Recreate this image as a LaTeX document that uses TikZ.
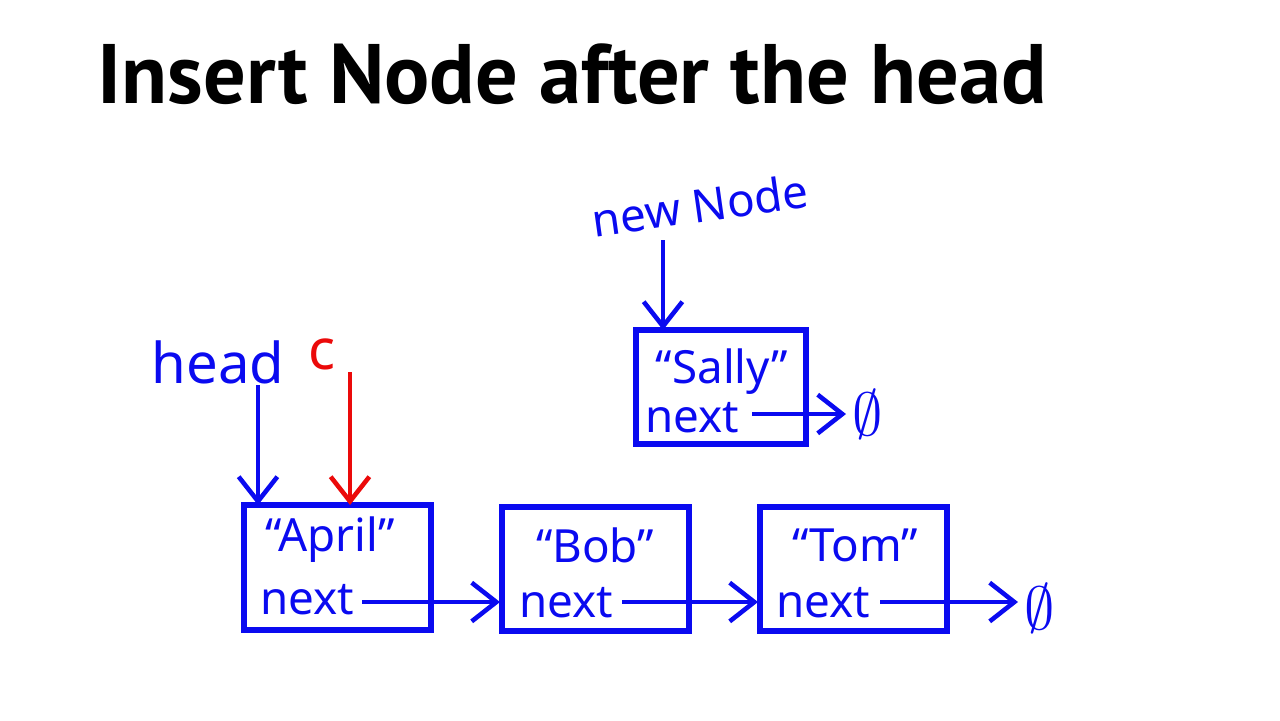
\documentclass[tikz,border=0pt]{standalone}
\usepackage{fontspec}
\setmainfont{PT Sans}
\newfontfamily\hand{Noto Sans}
\usetikzlibrary{arrows.meta}
\definecolor{pen}{RGB}{10,10,240}
\definecolor{redpen}{RGB}{235,10,10}
\begin{document}
\begin{tikzpicture}[x=0.01cm,y=-0.01cm,
  hw/.style={text=pen,font=\hand\fontsize{13}{13}\selectfont,inner sep=0pt},
  es/.style={hw,font=\fontsize{16}{16}\selectfont},
  arr/.style={draw=pen,line width=1.3pt,-{Straight Barb[length=7pt,width=11pt]}}]
\useasboundingbox (0,0) rectangle (1280,720);
\node[anchor=base west,inner sep=0pt,font=\bfseries\fontsize{24}{24}\selectfont] (title) at (97,103) {Insert Node after the head};
% boxes
\draw[pen,line width=1.5pt] (244,505) rectangle (431,630);
\draw[pen,line width=1.5pt] (502,507) rectangle (689,631);
\draw[pen,line width=1.5pt] (760,507) rectangle (947,631);
\draw[pen,line width=1.5pt] (636,330) rectangle (806,444);
\coordinate (bL) at (500,602); \coordinate (tL) at (758,602);
% labels
\node[hw] (a) at (330,540) {“April”};
\node[hw] (b) at (595,545) {“Bob”};
\node[hw] (t) at (855,545) {“Tom”};
\node[hw] (s) at (722,372) {“Sally”};
\node[hw] (an) at (307,600) {next};
\node[hw] (bn) at (566,603) {next};
\node[hw] (tn) at (823,603) {next};
\node[hw] (sn) at (692,418) {next};
\node[es] (t1) at (1040,608) {$\emptyset$};
\node[es] (s1) at (868,414) {$\emptyset$};
\node[hw,font=\hand\fontsize{16}{16}\selectfont] (head) at (218,362) {head};
\node[inner sep=0pt,text=redpen,font=\hand\fontsize{16}{16}\selectfont] (c) at (322,354) {c};
\node[hw,font=\hand\fontsize{13}{13}\selectfont,rotate=8] (nn) at (700,205) {new Node};
\coordinate (hA) at (258,505); \coordinate (cA) at (350,505); \coordinate (sT) at (663,330);
\coordinate (h0) at (258,385); \coordinate (c0) at (350,372); \coordinate (n0) at (663,240);
\coordinate (x1) at (362,602); \coordinate (x2) at (622,602); \coordinate (x3) at (880,602);
\coordinate (t1w) at (1018,602); \coordinate (x4) at (752,414); \coordinate (s1w) at (846,414);
\draw[arr] (h0) -- (hA);
\draw[arr,draw=redpen] (c0) -- (cA);
\draw[arr] (n0) -- (sT);
\draw[arr] (x1) -- (bL);
\draw[arr] (x2) -- (tL);
\draw[arr] (x3) -- (t1w);
\draw[arr] (x4) -- (s1w);
\end{tikzpicture}
\end{document}
